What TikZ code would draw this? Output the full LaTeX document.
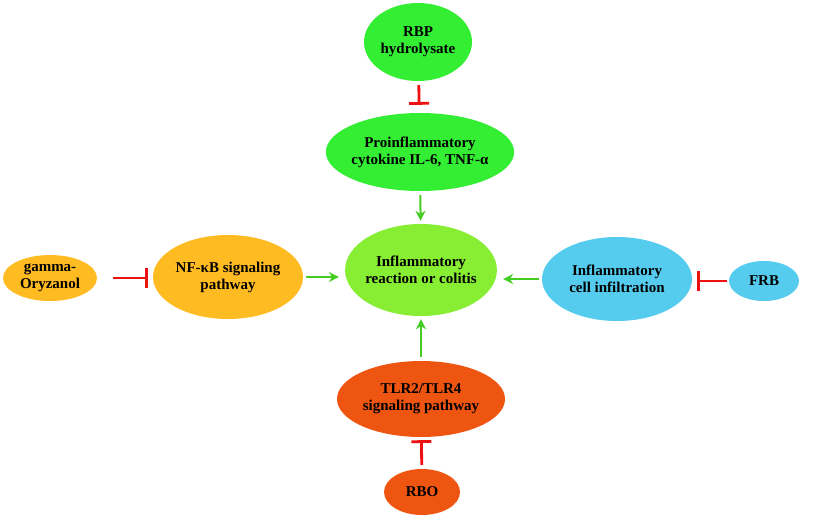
\documentclass[tikz,border=0pt]{standalone}
\usepackage{fontspec}
\setmainfont{Liberation Serif}
\usetikzlibrary{arrows.meta,shapes.geometric}
\definecolor{gA}{HTML}{33EE33}
\definecolor{gB}{HTML}{88EE33}
\definecolor{oA}{HTML}{FFBB22}
\definecolor{bA}{HTML}{55CCEE}
\definecolor{rA}{HTML}{EE5511}
\definecolor{arG}{HTML}{44CC22}
\definecolor{arR}{HTML}{EE1111}
\begin{document}
\begin{tikzpicture}[x=1pt,y=-1pt,
  el/.style={ellipse,inner sep=-2pt,align=center,font=\bfseries\fontsize{15}{17}\selectfont},
  act/.style={draw=arG,line width=2pt,-{Stealth[length=10pt,width=10pt]}},
  inh/.style={draw=arR,line width=2.8pt,-{Bar[width=20pt]}}]
\useasboundingbox (0,0) rectangle (813,517);
\node[el,fill=gA,minimum width=108pt,minimum height=78pt] (rbp) at (418,42) {RBP\\hydrolysate};
\node[el,fill=gA,minimum width=172pt,minimum height=78pt] (pro) at (420,152) {Proinflammatory\\cytokine IL-6, TNF-α};
\node[el,fill=gB,minimum width=142pt,minimum height=92pt] (inf) at (421,270) {Inflammatory\\reaction or colitis};
\node[el,fill=oA,minimum width=150pt,minimum height=84pt] (nfk) at (228,277) {NF-κB signaling\\pathway};
\node[el,fill=oA,minimum width=94pt,minimum height=46pt] (gam) at (50,278) {gamma-\\Oryzanol};
\node[el,fill=bA,minimum width=150pt,minimum height=84pt] (cel) at (617,279) {Inflammatory\\cell infiltration};
\node[el,fill=bA,minimum width=70pt,minimum height=40pt] (frb) at (764,281) {FRB};
\node[el,fill=rA,minimum width=168pt,minimum height=76pt] (tlr) at (421,399) {TLR2/TLR4\\signaling pathway};
\node[el,fill=rA,minimum width=76pt,minimum height=46pt] (rbo) at (422,492) {RBO};
\draw[act,shorten <=4pt,shorten >=3pt] (pro) -- (inf);
\draw[act,shorten <=3pt,shorten >=6pt] (nfk.east) -- (inf.west |- nfk.east);
\draw[act,shorten <=3pt,shorten >=6pt] (cel.west) -- (inf.east |- cel.west);
\draw[act,shorten <=4pt,shorten >=3pt] (tlr) -- (inf);
\draw[inh,shorten <=4pt,shorten >=8pt] (rbp) -- (pro);
\draw[inh,shorten <=16pt,shorten >=5pt] (gam.east) -- (nfk.west |- gam.east);
\draw[inh,shorten <=2pt,shorten >=5pt] (frb.west) -- (cel.east |- frb.west);
\draw[inh,shorten <=4pt,shorten >=3pt] (rbo) -- (tlr);
\end{tikzpicture}
\end{document}
